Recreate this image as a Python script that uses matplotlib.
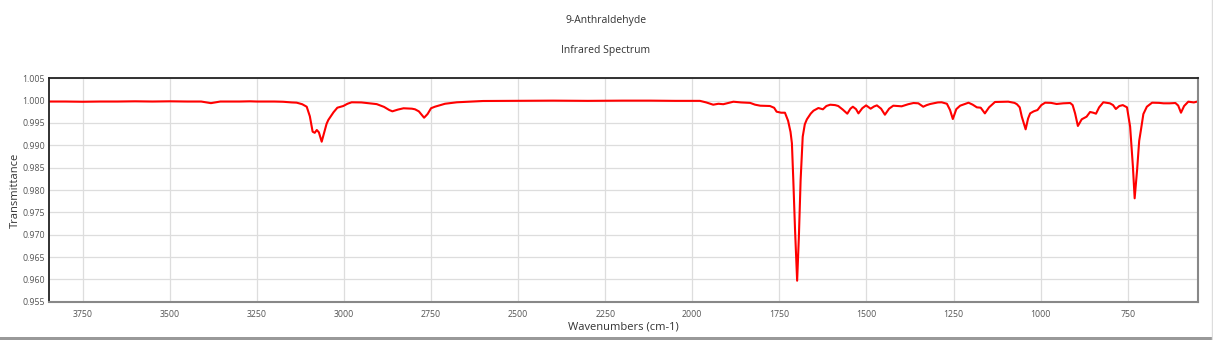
import matplotlib
matplotlib.use("Agg")
import matplotlib.pyplot as plt
from matplotlib.ticker import FormatStrFormatter
from matplotlib.patches import Rectangle
from matplotlib.lines import Line2D

title = "9-Anthraldehyde"
subtitle = "Infrared Spectrum"
x_label = "Wavenumbers (cm-1)"
y_label = "Transmittance"

wavenumbers = [3846, 3800, 3750, 3700, 3650, 3600, 3550, 3500, 3450, 3410, 3395, 3382, 3370, 3355,
               3300, 3270, 3250, 3200, 3175, 3150, 3136, 3120, 3107, 3098, 3090, 3084, 3078, 3072,
               3064, 3058, 3050, 3045, 3030, 3019, 3002, 2990, 2978, 2950, 2906, 2885, 2870, 2861,
               2845, 2829, 2805, 2796, 2785, 2770, 2760, 2750, 2739, 2710, 2676, 2601, 2500, 2400,
               2300, 2200, 2121, 2050, 1978, 1960, 1940, 1925, 1911, 1882, 1860, 1844, 1834, 1820,
               1805, 1777, 1765, 1758, 1745, 1734, 1725, 1718, 1714, 1710, 1705, 1699, 1694, 1689,
               1683, 1677, 1671, 1660, 1652, 1638, 1625, 1615, 1604, 1590, 1581, 1568, 1555, 1546,
               1539, 1530, 1523, 1512, 1501, 1488, 1478, 1470, 1458, 1447, 1435, 1423, 1399, 1380,
               1365, 1351, 1337, 1327, 1317, 1295, 1284, 1269, 1260, 1252, 1242, 1231, 1207, 1195,
               1183, 1172, 1160, 1148, 1131, 1093, 1075, 1068, 1060, 1054, 1043, 1036, 1030, 1020,
               1009, 998, 987, 970, 954, 935, 915, 908, 901, 893, 882, 868, 858, 849, 841, 832, 820,
               801, 792, 784, 774, 764, 752, 743, 735, 730, 723, 717, 712, 705, 695, 680, 660, 647,
               630, 613, 605, 597, 588, 576, 560, 550]
transmittance = [0.9998, 0.9998, 0.99975, 0.9998, 0.9998, 0.99985, 0.9998, 0.99985, 0.9998, 0.9998,
                 0.9996, 0.99944, 0.9996, 0.9998, 0.9998, 0.99985, 0.9998, 0.9998, 0.99975, 0.9996,
                 0.99955, 0.9992, 0.99864, 0.9965, 0.99305, 0.9928, 0.99343, 0.9929, 0.99081, 0.9925,
                 0.9948, 0.99567, 0.9974, 0.99842, 0.9988, 0.9993, 0.99963, 0.9996, 0.99922, 0.9986,
                 0.9979, 0.99761, 0.998, 0.99829, 0.9982, 0.99806, 0.9976, 0.99618, 0.997, 0.9983,
                 0.99864, 0.9993, 0.99963, 0.99992, 0.99995, 1.0, 0.99995, 1.0, 1.0, 0.99995, 0.99995,
                 0.9996, 0.99909, 0.9993, 0.9992, 0.99976, 0.9996, 0.99954, 0.9995, 0.9991, 0.99887,
                 0.9988, 0.9984, 0.99753, 0.9973, 0.9973, 0.9955, 0.993, 0.99045, 0.98224, 0.97105,
                 0.9597, 0.96955, 0.98224, 0.99193, 0.9947, 0.99582, 0.9971, 0.99775, 0.99835, 0.99806,
                 0.9988, 0.99909, 0.999, 0.9988, 0.998, 0.99708, 0.9982, 0.99864, 0.9981, 0.99715,
                 0.9983, 0.99894, 0.9982, 0.9987, 0.99894, 0.9982, 0.99685, 0.9982, 0.99887, 0.99873,
                 0.9992, 0.99947, 0.9994, 0.99864, 0.999, 0.99925, 0.9996, 0.99963, 0.9993, 0.9979,
                 0.99589, 0.9981, 0.99887, 0.99954, 0.9991, 0.9985, 0.99842, 0.99715, 0.9985, 0.9997,
                 0.99977, 0.9995, 0.9992, 0.9985, 0.99641, 0.99358, 0.996, 0.99715, 0.9976, 0.9979,
                 0.999, 0.99954, 0.9995, 0.99925, 0.9994, 0.99947, 0.999, 0.99715, 0.99433, 0.99582,
                 0.99641, 0.99746, 0.9973, 0.99708, 0.9985, 0.99963, 0.9994, 0.999, 0.99813, 0.9988,
                 0.999, 0.9985, 0.99417, 0.98522, 0.97814, 0.98448, 0.991, 0.99343, 0.997, 0.99864,
                 0.99954, 0.9995, 0.9994, 0.9994, 0.99947, 0.9989, 0.9973, 0.9988, 0.99977, 0.9996,
                 0.9998]

x_ticks = [3750, 3500, 3250, 3000, 2750, 2500, 2250, 2000, 1750, 1500, 1250, 1000, 750]
y_ticks = [0.955, 0.960, 0.965, 0.970, 0.975, 0.980, 0.985, 0.990, 0.995, 1.000, 1.005]

plt.rcParams['font.family'] = ['Open Sans', 'DejaVu Sans']

fig = plt.figure(figsize=(12.13, 3.40), dpi=100)
ax = fig.add_axes([49.3 / 1213, 1 - 301.7 / 340, (1197.7 - 49.3) / 1213, (301.7 - 78.3) / 340])

ax.plot(wavenumbers, transmittance, color='#ff0000', lw=1.5, solid_joinstyle='round')
ax.set_xlim(3846, 549)
ax.set_ylim(0.955, 1.005)
ax.set_xticks(x_ticks)
ax.set_yticks(y_ticks)
ax.yaxis.set_major_formatter(FormatStrFormatter('%.3f'))
ax.grid(True, color='#dddddd', lw=0.9)
ax.set_axisbelow(True)
ax.tick_params(length=0, labelsize=6.3, labelcolor='#555555')
ax.tick_params(axis='x', pad=6)
ax.tick_params(axis='y', pad=3)

for side in ['top', 'left']:
    ax.spines[side].set_color('#222222')
    ax.spines[side].set_linewidth(1.3)
for side in ['right', 'bottom']:
    ax.spines[side].set_color('#888888')
    ax.spines[side].set_linewidth(1.5)

fig.text(623 / 1213, 1 - 327 / 340, x_label, ha='center', va='center', fontsize=8, color='#333333')
fig.text(15 / 1213, 1 - 190 / 340, y_label, ha='center', va='center', rotation=90,
         fontsize=8, color='#333333')

fig.text(606 / 1213, 1 - 21 / 340, title, ha='center', va='center', fontsize=7.5, color='#333333')
fig.text(606 / 1213, 1 - 51 / 340, subtitle, ha='center', va='center', fontsize=7.5, color='#333333')

# outer figure frame (bottom gray bar and right light line)
fig.add_artist(Rectangle((0, 0), 1, 3 / 340, transform=fig.transFigure, color='#999999', lw=0))
fig.add_artist(Line2D([1 - 1 / 1213, 1 - 1 / 1213], [0, 1], transform=fig.transFigure, color='#dddddd', lw=1))

fig.savefig('out.png', dpi=100)
